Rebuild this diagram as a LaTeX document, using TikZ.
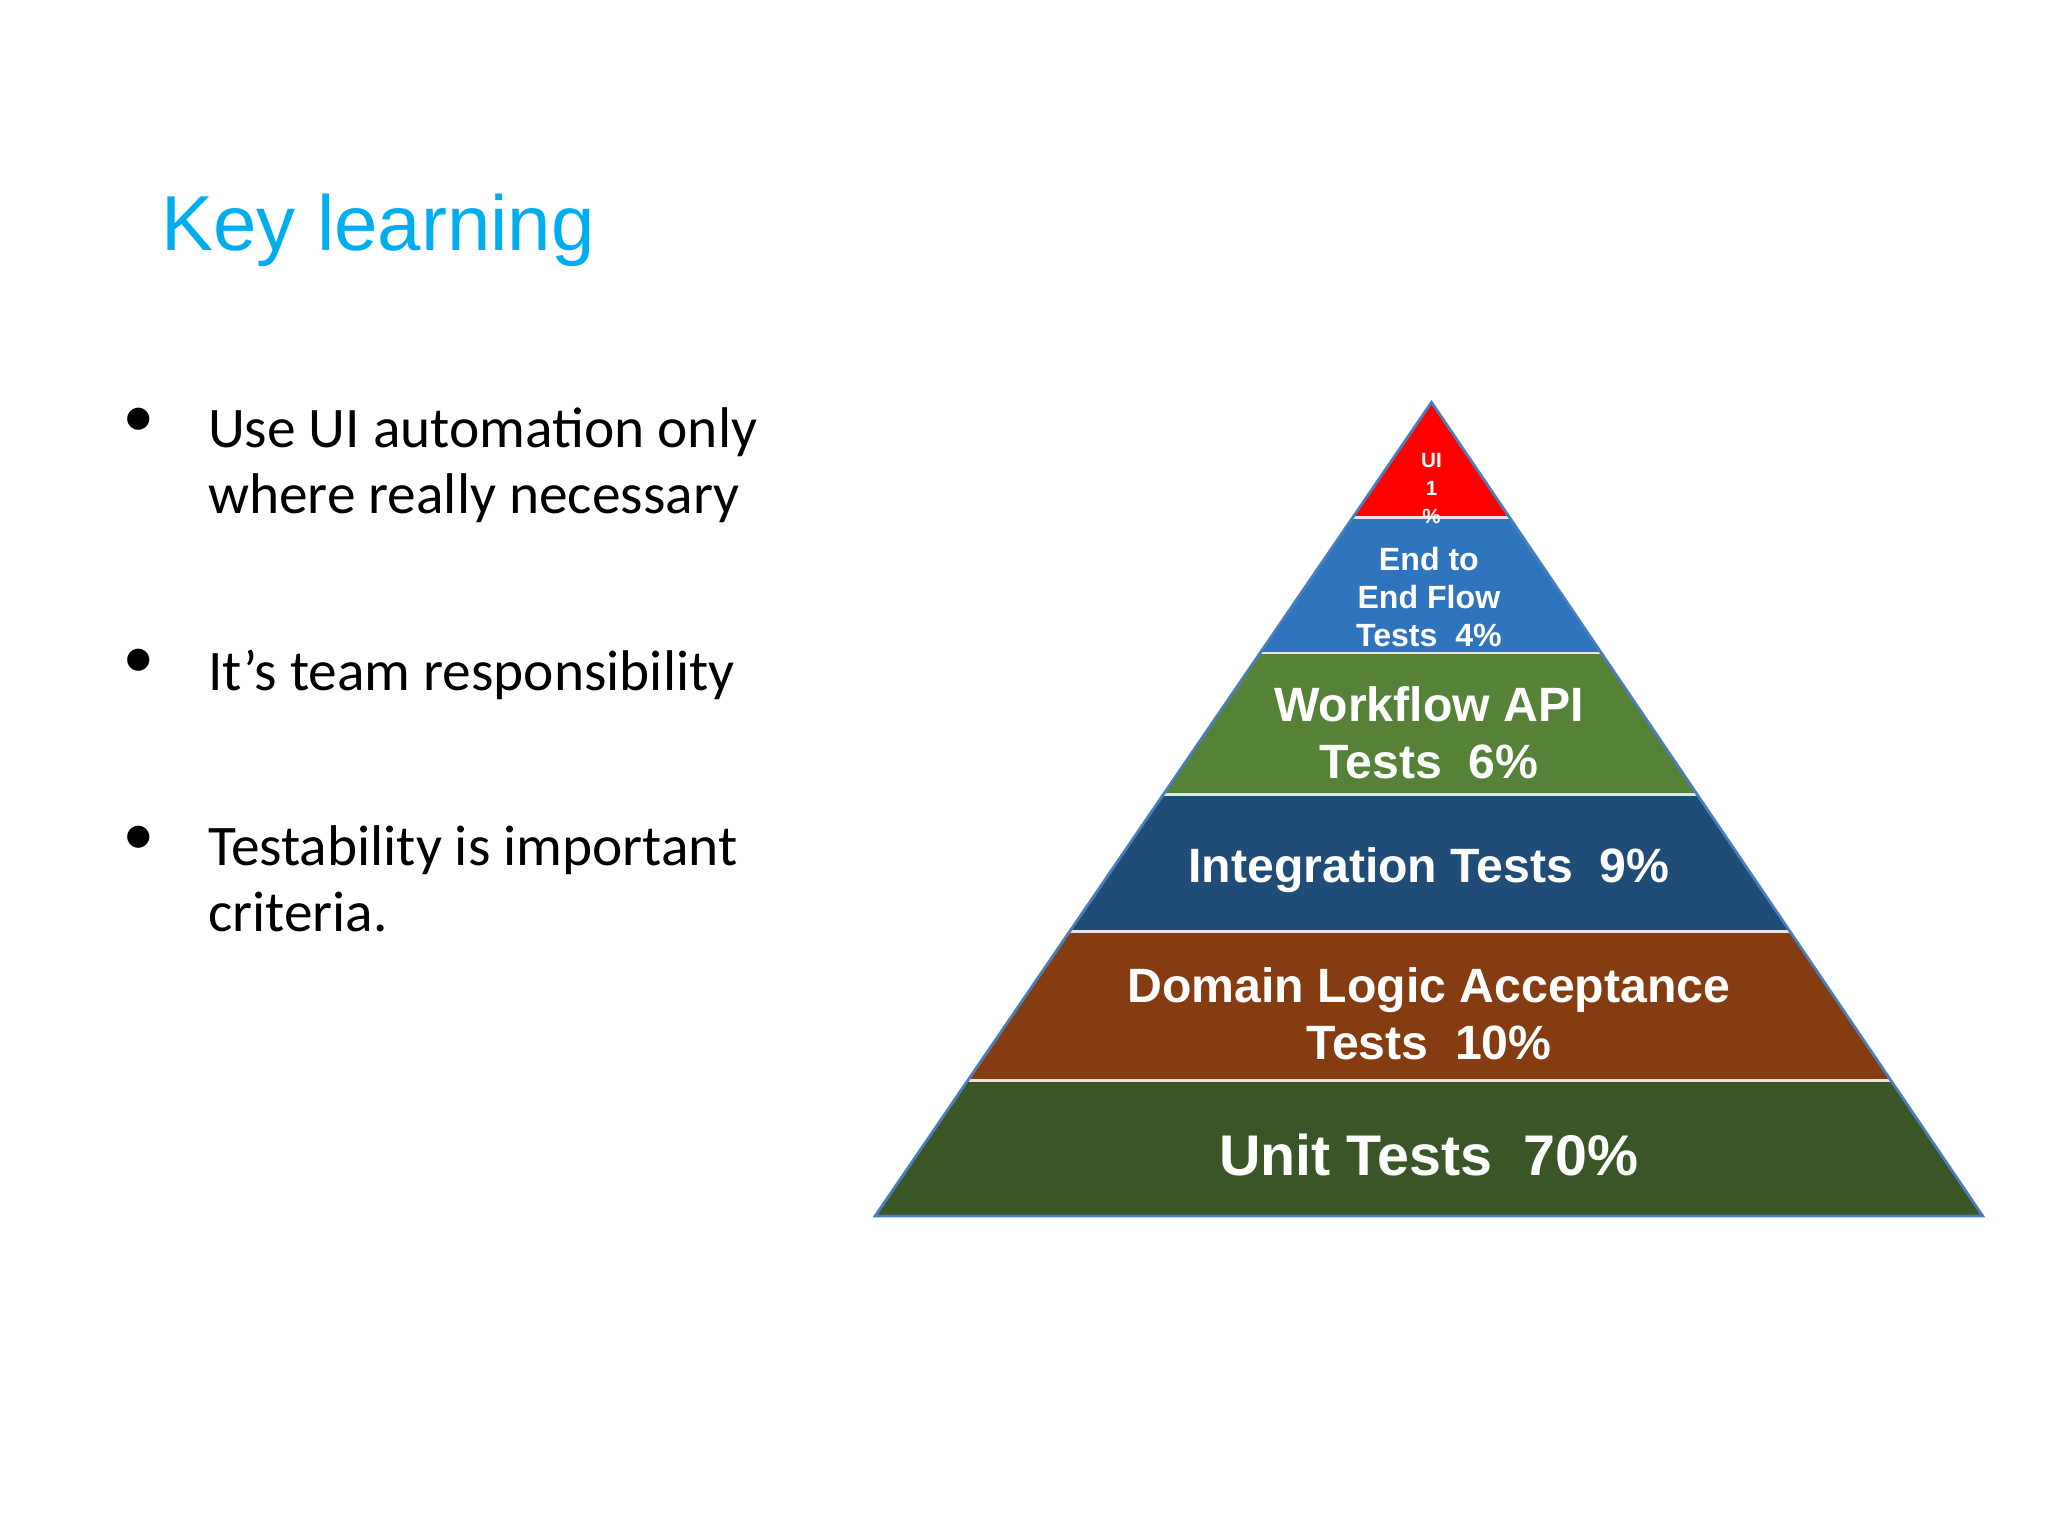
\documentclass[tikz,border=0pt]{standalone}
\usepackage{fontspec}
\setmainfont{Liberation Sans}
\newfontfamily\bodyfont{Carlito}
\definecolor{ttl}{HTML}{00AEEF}
\definecolor{cUI}{HTML}{FF0000}
\definecolor{cEE}{HTML}{2F75BD}
\definecolor{cWF}{HTML}{558236}
\definecolor{cIT}{HTML}{1F4D78}
\definecolor{cDL}{HTML}{843C10}
\definecolor{cUT}{HTML}{3A5526}
\definecolor{edge}{HTML}{4A7EBB}
\tikzset{lbl/.style={text=white,font=\bfseries,align=center,inner sep=0pt},
bul/.style={font=\bodyfont\fontsize{25}{28.5}\selectfont,anchor=north west,align=left,inner sep=0pt}}
\begin{document}
\begin{tikzpicture}[x=0.02cm,y=-0.02cm]
\useasboundingbox (0,0) rectangle (1568,1176);
\fill[white] (0,0) rectangle (1568,1176);
\node[anchor=west,text=ttl,font=\fontsize{34}{40}\selectfont,inner sep=0pt] (title) at (123,176) {Key learning};
\foreach \n/\y/\t in {b1/312/{Use UI automation only\\where really necessary},b2/497/{It’s team responsibility},b3/632/{Testability is important\\criteria.}}{
 \node[bul] (\n) at (159,\y) {\t};
 \node[font=\fontsize{25}{28}\selectfont,anchor=north,inner sep=0pt] (\n d) at (106,\y) {$\bullet$};
}
\coordinate (apex) at (1096,308);
\coordinate (bl) at (670,931);
\coordinate (br) at (1518,931);
\begin{scope}
\clip (apex)--(bl)--(br)--cycle;
\fill[cUI] (600,300) rectangle (1600,396);
\fill[cEE] (600,396) rectangle (1600,500);
\fill[cWF] (600,500) rectangle (1600,608);
\fill[cIT] (600,608) rectangle (1600,713);
\fill[cDL] (600,713) rectangle (1600,827);
\fill[cUT] (600,827) rectangle (1600,931);
\foreach \y in {396,500,608,713,827}{\draw[white!80!gray,line width=1.2pt] (600,\y)--(1600,\y);}
\end{scope}
\draw[edge,line width=1.2pt] (apex)--(bl)--(br)--cycle;
\node[lbl,font=\bfseries\fontsize{9}{12}\selectfont] (ui) at (1096,374) {UI\\1\\\%};
\node[lbl,font=\bfseries\fontsize{14}{16.5}\selectfont] (ee) at (1094,457) {End to\\End Flow\\Tests~~4\%};
\node[lbl,font=\bfseries\fontsize{21}{25}\selectfont] (wf) at (1094,561) {Workflow API\\Tests~~6\%};
\node[lbl,font=\bfseries\fontsize{21}{25}\selectfont] (it) at (1094,666) {Integration Tests~~9\%};
\node[lbl,font=\bfseries\fontsize{21}{25}\selectfont] (dl) at (1094,776) {Domain Logic Acceptance\\Tests~~10\%};
\node[lbl,font=\bfseries\fontsize{25}{30}\selectfont] (ut) at (1094,884) {Unit Tests~~70\%};
\end{tikzpicture}
\end{document}
